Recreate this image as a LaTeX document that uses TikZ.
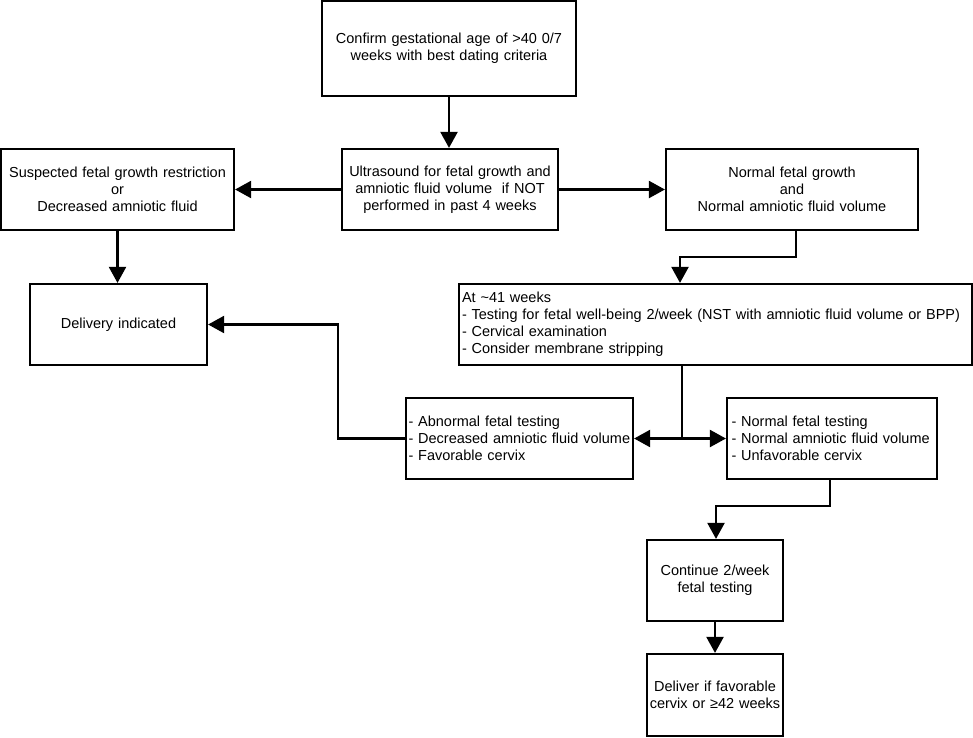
\documentclass[tikz,border=0pt]{standalone}
\usepackage{fontspec}
\setmainfont{Liberation Sans}
\usetikzlibrary{arrows.meta}
\begin{document}
\begin{tikzpicture}[x=1pt,y=-1pt,
  box/.style={draw, line width=2.2pt, inner sep=0pt, font=\fontsize{14.5}{17}\selectfont},
  cbox/.style={box, align=center},
  lbox/.style={box, align=left},
  arr/.style={line width=2.2pt, -{Triangle[length=16pt,width=17pt]}},
  ln/.style={line width=2.2pt}]
\useasboundingbox (0,0) rectangle (973,737);
\node[cbox, minimum width=254pt, minimum height=95pt, text width=250pt] (b1) at (449,48.5)
  {Confirm gestational age of >40 0/7\\weeks with best dating criteria};
\node[cbox, minimum width=216pt, minimum height=81pt, text width=214pt] (b2) at (450,189.5)
  {Ultrasound for fetal growth and\\amniotic fluid volume\ \ if NOT\\performed in past 4 weeks};
\node[cbox, minimum width=233pt, minimum height=81pt, text width=231pt] (b3) at (117.5,189.5)
  {Suspected fetal growth restriction\\or\\Decreased amniotic fluid};
\node[cbox, minimum width=252pt, minimum height=81pt, text width=248pt] (b4) at (792,189.5)
  {Normal fetal growth\\and\\Normal amniotic fluid volume};
\node[cbox, minimum width=177pt, minimum height=81pt, text width=171pt] (b5) at (118.5,324.5)
  {Delivery indicated};
\node[lbox, minimum width=513pt, minimum height=81pt, text width=507pt] (b6) at (715.5,324.5)
  {At \textasciitilde41 weeks\\- Testing for fetal well-being 2/week (NST with amniotic fluid volume or BPP)\\- Cervical examination\\- Consider membrane stripping};
\node[lbox, minimum width=227pt, minimum height=81pt, text width=222pt] (b7) at (519.5,438.5)
  {- Abnormal fetal testing\\- Decreased amniotic fluid volume\\- Favorable cervix};
\node[lbox, minimum width=210pt, minimum height=81pt, text width=201pt] (b8) at (832,438.5)
  {- Normal fetal testing\\- Normal amniotic fluid volume\\- Unfavorable cervix};
\node[cbox, minimum width=136pt, minimum height=81pt, text width=134pt] (b9) at (715,580.5)
  {Continue 2/week\\fetal testing};
\node[cbox, minimum width=136pt, minimum height=82pt, text width=134pt] (b10) at (715,695)
  {Deliver if favorable\\cervix or ≥42 weeks};
\coordinate (c1) at (796,257);
\coordinate (c2) at (680,257);
\coordinate (j) at (682,438.5);
\coordinate (c3) at (338,324.5);
\coordinate (c4) at (830,506);
\coordinate (c5) at (716,506);
\draw[arr] (b1.south) -- (b1.south |- b2.north);
\draw[arr] (b2.west) -- (b3.east);
\draw[arr] (b2.east) -- (b4.west);
\draw[arr] (b3.south) -- (b3.south |- b5.north);
\draw[arr] (c1 |- b4.south) -- (c1) -- (c2) -- (c2 |- b6.north);
\draw[ln] (j |- b6.south) -- (j);
\draw[arr] (j) -- (b7.east);
\draw[arr] (j) -- (b8.west);
\draw[arr] (b7.west) -- (c3 |- b7.west) -- (c3) -- (b5.east);
\draw[arr] (c4 |- b8.south) -- (c4) -- (c5) -- (c5 |- b9.north);
\draw[arr] (b9.south) -- (b10.north);
\end{tikzpicture}
\end{document}
